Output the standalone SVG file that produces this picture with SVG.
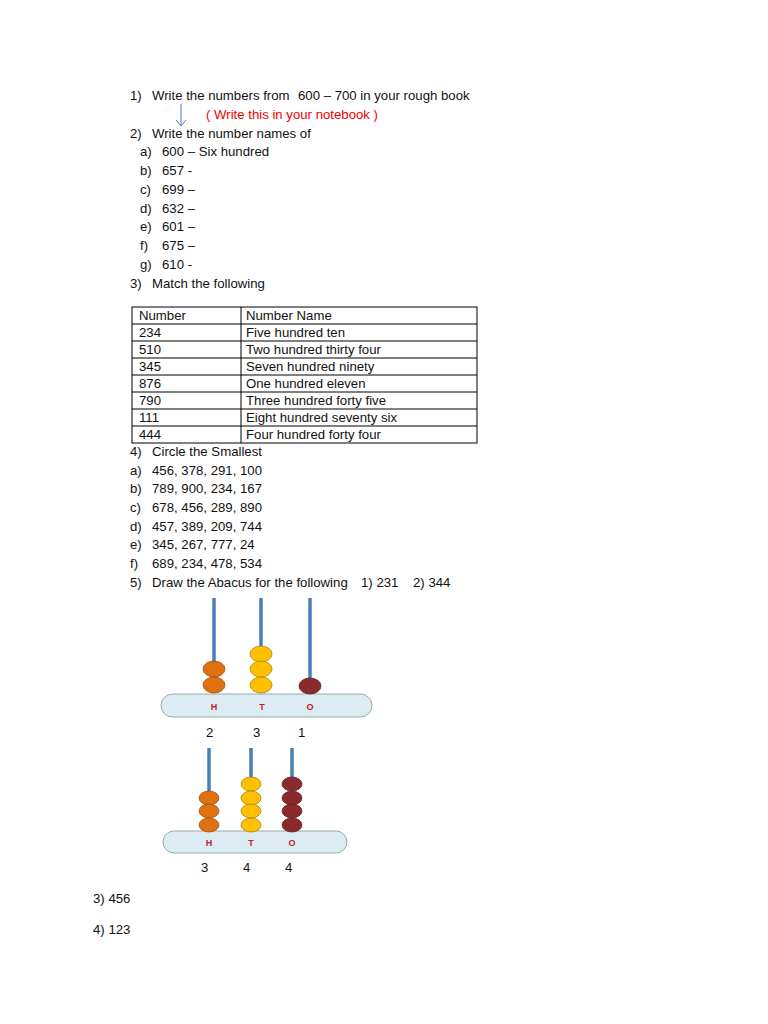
<svg xmlns="http://www.w3.org/2000/svg" width="768" height="1024" viewBox="0 0 768 1024">
<style>
text{font-family:"Liberation Sans",Arial,sans-serif;font-size:13.2px;fill:#111}
.red{fill:#e00}
.lbl{font-size:9px;font-weight:bold;fill:#c0222a;text-anchor:middle}
.rod{stroke:#4a7fb5;stroke-width:3.5}
.bar{fill:#dcecf2;stroke:#9aa;stroke-width:1}
.h{fill:#e07010;stroke:#8a4a10;stroke-width:0.7}
.t{fill:#ffc000;stroke:#a07a00;stroke-width:0.7}
.o{fill:#8b2a2a;stroke:#5a1a1a;stroke-width:0.7}
.cell{fill:none;stroke:#000;stroke-width:1}
</style>
<rect width="768" height="1024" fill="#fff"/>
<text x="130" y="100">1)</text><text x="152" y="100">Write the numbers from</text><text x="298" y="100">600 – 700 in your rough book</text>
<g stroke="#4a7fc0" stroke-width="1" fill="none"><line x1="181" y1="104" x2="181" y2="126"/><polyline points="176,120 181,126 186,120"/></g>
<text x="206" y="119" class="red">( Write this in your notebook )</text>
<text x="130" y="138">2)</text><text x="152" y="138">Write the number names of</text>
<text x="140" y="156">a)</text><text x="162" y="156">600 – Six hundred</text>
<text x="140" y="175">b)</text><text x="162" y="175">657 -</text>
<text x="140" y="194">c)</text><text x="162" y="194">699 –</text>
<text x="140" y="213">d)</text><text x="162" y="213">632 –</text>
<text x="140" y="231">e)</text><text x="162" y="231">601 –</text>
<text x="140" y="250">f)</text><text x="162" y="250">675 –</text>
<text x="140" y="269">g)</text><text x="162" y="269">610 -</text>
<text x="130" y="288">3)</text><text x="152" y="288">Match the following</text>
<g id="table">
<rect class="cell" x="132" y="307" width="345" height="136"/>
<line class="cell" x1="241" y1="307" x2="241" y2="443"/>
<g class="cell"><line x1="132" y1="324" x2="477" y2="324"/><line x1="132" y1="341" x2="477" y2="341"/><line x1="132" y1="358" x2="477" y2="358"/><line x1="132" y1="375" x2="477" y2="375"/><line x1="132" y1="392" x2="477" y2="392"/><line x1="132" y1="409" x2="477" y2="409"/><line x1="132" y1="426" x2="477" y2="426"/></g>
<text x="139" y="320">Number</text><text x="246" y="320">Number Name</text>
<text x="139" y="337">234</text><text x="246" y="337">Five hundred ten</text>
<text x="139" y="354">510</text><text x="246" y="354">Two hundred thirty four</text>
<text x="139" y="371">345</text><text x="246" y="371">Seven hundred ninety</text>
<text x="139" y="388">876</text><text x="246" y="388">One hundred eleven</text>
<text x="139" y="405">790</text><text x="246" y="405">Three hundred forty five</text>
<text x="139" y="422">111</text><text x="246" y="422">Eight hundred seventy six</text>
<text x="139" y="439">444</text><text x="246" y="439">Four hundred forty four</text>
</g>
<text x="130" y="456">4)</text><text x="152" y="456">Circle the Smallest</text>
<text x="130" y="475">a)</text><text x="152" y="475">456, 378, 291, 100</text>
<text x="130" y="493">b)</text><text x="152" y="493">789, 900, 234, 167</text>
<text x="130" y="512">c)</text><text x="152" y="512">678, 456, 289, 890</text>
<text x="130" y="531">d)</text><text x="152" y="531">457, 389, 209, 744</text>
<text x="130" y="549">e)</text><text x="152" y="549">345, 267, 777, 24</text>
<text x="130" y="568">f)</text><text x="152" y="568">689, 234, 478, 534</text>
<text x="130" y="587">5)</text><text x="152" y="587">Draw the Abacus for the following</text><text x="361" y="587">1) 231</text><text x="413" y="587">2) 344</text>
<g id="abacus1">
<line class="rod" x1="214" y1="598" x2="214" y2="670"/>
<line class="rod" x1="261" y1="598" x2="261" y2="655"/>
<line class="rod" x1="310" y1="598" x2="310" y2="686"/>
<rect class="bar" x="161" y="694" width="211" height="23" rx="11.5"/>
<ellipse class="h" cx="214" cy="669" rx="11" ry="8"/><ellipse class="h" cx="214" cy="685" rx="11" ry="8"/>
<ellipse class="t" cx="261" cy="654" rx="11" ry="8"/><ellipse class="t" cx="261" cy="669" rx="11" ry="8"/><ellipse class="t" cx="261" cy="685" rx="11" ry="8"/>
<ellipse class="o" cx="310" cy="686" rx="11" ry="8"/>
<text class="lbl" x="214" y="710">H</text><text class="lbl" x="262" y="710">T</text><text class="lbl" x="310" y="710">O</text>
<text x="206" y="737">2</text><text x="253" y="737">3</text><text x="298" y="737">1</text>
</g>
<g id="abacus2">
<line class="rod" x1="209" y1="748" x2="209" y2="799"/>
<line class="rod" x1="251" y1="748" x2="251" y2="785"/>
<line class="rod" x1="292" y1="748" x2="292" y2="785"/>
<rect class="bar" x="163" y="831" width="184" height="22" rx="11"/>
<ellipse class="h" cx="209" cy="798" rx="10" ry="7"/><ellipse class="h" cx="209" cy="811" rx="10" ry="7"/><ellipse class="h" cx="209" cy="825" rx="10" ry="7"/>
<ellipse class="t" cx="251" cy="784" rx="10" ry="7"/><ellipse class="t" cx="251" cy="798" rx="10" ry="7"/><ellipse class="t" cx="251" cy="811" rx="10" ry="7"/><ellipse class="t" cx="251" cy="825" rx="10" ry="7"/>
<ellipse class="o" cx="292" cy="784" rx="10" ry="7"/><ellipse class="o" cx="292" cy="798" rx="10" ry="7"/><ellipse class="o" cx="292" cy="811" rx="10" ry="7"/><ellipse class="o" cx="292" cy="825" rx="10" ry="7"/>
<text class="lbl" x="209" y="846">H</text><text class="lbl" x="251" y="846">T</text><text class="lbl" x="292" y="846">O</text>
<text x="201" y="872">3</text><text x="243" y="872">4</text><text x="285" y="872">4</text>
</g>
<text x="93" y="903">3) 456</text>
<text x="93" y="934">4) 123</text>
</svg>
